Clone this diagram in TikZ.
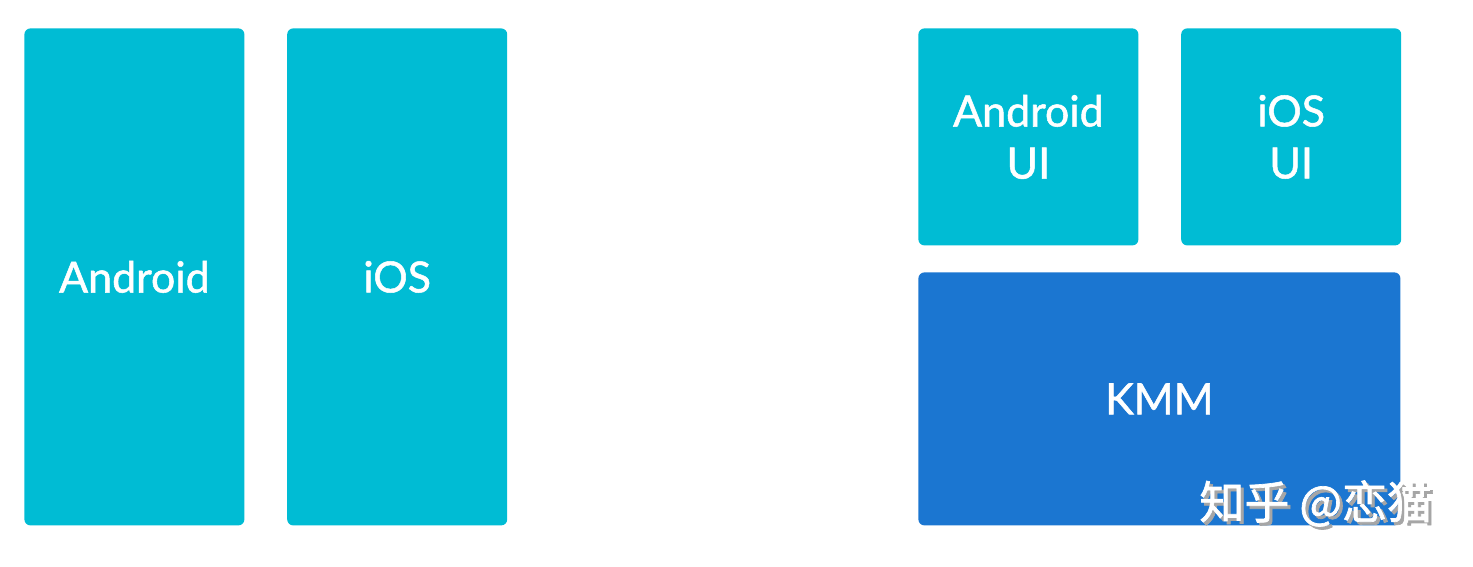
\documentclass[tikz,border=0pt]{standalone}
\usepackage{fontspec}
\setmainfont{Lato}[FakeBold=1.2]
\newfontfamily\cjkfont{Noto Sans CJK SC}[FakeBold=1.5]
\usetikzlibrary{positioning,shadows}
\definecolor{platcyan}{HTML}{00BCD4}
\definecolor{kmmblue}{HTML}{1B76D1}
\tikzset{
    block/.style = {
        fill = platcyan,
        text = white,
        inner sep = 0pt,
        rounded corners = 3pt,
        minimum width = 110pt,
        align = center,
        font = \fontsize{21.5}{26}\selectfont,
        },
    tall/.style = {
        minimum height = 248.5pt,
        },
    short/.style = {
        minimum height = 108.5pt,
        },
    shared/.style = {
        fill = kmmblue,
        minimum width = 241pt,
        minimum height = 126.5pt,
        },
}

\begin{document}
\begin{tikzpicture}[x=0.5pt,y=-0.5pt]
            \useasboundingbox (0,0) rectangle (1473,567);
            % native apps
            \node[block, tall, anchor=north west] (android) at (24,28) {Android};
            \node[block, tall, right=21pt of android] (ios) {iOS};
            % kmm apps
            \node[block, short, anchor=north west] (androidui) at (918,28) {Android\\UI};
            \node[block, short, right=21pt of androidui] (iosui) {iOS\\UI};
            \node[block, shared, anchor=north west] (kmm) at (918,272) {KMM};

            % watermark
            \node[text=white, anchor=west, inner sep=0pt,
                  font=\cjkfont\fontsize{22.5}{22.5}\selectfont] (mark) at (1199,505)
                  {\textcolor{gray!70}{\makebox[0pt][l]{\hspace{1.5pt}\raisebox{-1.5pt}{知乎 @恋猫}}}知乎 @恋猫};
        \end{tikzpicture}
\end{document}
